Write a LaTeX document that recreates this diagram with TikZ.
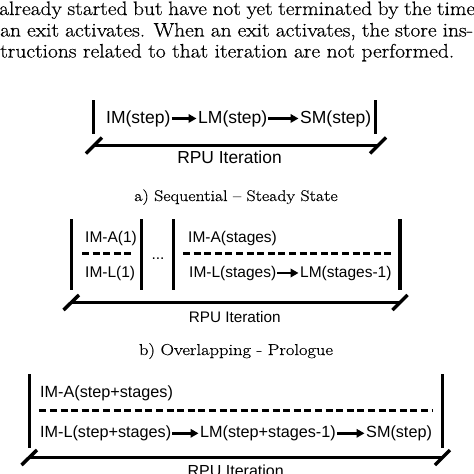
\documentclass[tikz,border=0pt]{standalone}
\usepackage{fontspec}
\newfontfamily\arial{Liberation Sans}
\newfontfamily\serif{Latin Modern Roman}[FakeBold=0.5,Ligatures=TeX]
\usetikzlibrary{arrows.meta}
\newcommand{\pline}[2]{\scalebox{1.10}[1]{\makebox[#1][s]{#2}}}
\begin{document}
\begin{tikzpicture}[x=1pt,y=-1pt,
  vbar/.style={line width=3.5pt},
  dimline/.style={line width=3.2pt},
  tickmark/.style={line width=3.5pt},
  sepline/.style={line width=2.6pt, dash pattern=on 7pt off 3.6pt},
  flow/.style={line width=2.8pt, -{Triangle[length=8pt,width=8.5pt]}, shorten <=1pt, shorten >=1.5pt},
  para/.style={inner sep=0pt, anchor=base west, font=\serif\fontsize{19.5}{21}\selectfont},
  capt/.style={inner sep=0pt, anchor=base, font=\serif\fontsize{15.5}{18}\selectfont},
  txa/.style={inner sep=0pt, anchor=base west, font=\arial\fontsize{17.5}{20}\selectfont},
  txb/.style={inner sep=0pt, anchor=base west, font=\arial\fontsize{15.5}{18}\selectfont},
  txc/.style={inner sep=0pt, anchor=base west, font=\arial\fontsize{16.2}{19}\selectfont},
  rpu/.style={inner sep=0pt, anchor=base}
]
\useasboundingbox (0,0) rectangle (474,474);
\fill[white] (0,0) rectangle (474,474);

% paragraph
\node[para] (p1) at (-1,15) {\pline{432.7pt}{already started but have not yet terminated by the time}};
\node[para] (p2) at (0,36.5) {\pline{430pt}{an exit activates. When an exit activates, the store ins-}};
\node[para] (p3) at (0,57.5) {\scalebox{1.10}[1]{tructions related to that iteration are not performed.}};

% ---------- a) ----------
\draw[vbar] (93.5,100) -- (93.5,134);
\draw[vbar] (375.7,100) -- (375.7,134);
\node[txa] (a1) at (106,123) {IM(step)};
\node[txa] (a2) at (198,123) {LM(step)};
\node[txa] (a3) at (300,123) {SM(step)};
\draw[flow] (a1.east) -- (a2.west);
\draw[flow] (a2.east) -- (a3.west);
\draw[dimline] (94,145.5) -- (378,145.5);
\draw[tickmark] (86,153.5) -- (102,137.5);
\draw[tickmark] (370,153.5) -- (386,137.5);
\node[rpu, font=\arial\fontsize{17.4}{20}\selectfont] (ra) at (229.5,163) {RPU Iteration};
\node[capt] (ca) at (236,201) {\scalebox{1.15}[1]{a) Sequential -- Steady State}};

% ---------- b) ----------
\draw[vbar] (71.7,219) -- (71.7,290);
\draw[vbar] (141.7,219) -- (141.7,290);
\draw[vbar] (173.5,219) -- (173.5,290);
\draw[vbar] (400,219) -- (400,290);
\node[txb] (b1) at (85,242) {IM-A(1)};
\node[txb] (b2) at (85,277) {IM-L(1)};
\draw[sepline] (82,253.3) -- (134,253.3);
\node[txb, anchor=base] (bdots) at (158,259) {...};
\node[txb] (b3) at (188,242) {IM-A(stages)};
\draw[sepline] (183,253.3) -- (392,253.3);
\node[txb] (b4) at (189,277) {IM-L(stages)};
\node[txb] (b5) at (300,277) {LM(stages-1)};
\draw[flow] (b4.east) -- (b5.west);
\draw[dimline] (71,302.5) -- (400,302.5);
\draw[tickmark] (63.5,310) -- (79,295);
\draw[tickmark] (392.5,310) -- (407.5,295);
\node[rpu, font=\arial\fontsize{15.3}{18}\selectfont] (rb) at (234.7,322) {RPU Iteration};
\node[capt, font=\serif\fontsize{15.8}{18}\selectfont] (cb) at (236,355) {\scalebox{1.17}[1]{b) Overlapping - Prologue}};

% ---------- c) ----------
\draw[vbar] (29.3,374) -- (29.3,448);
\draw[vbar] (442.5,374) -- (442.5,448);
\node[txc] (c1) at (40,397) {IM-A(step+stages)};
\draw[sepline] (39.3,410.5) -- (432.7,410.5);
\node[txc] (c2) at (40,437.5) {IM-L(step+stages)};
\node[txc] (c3) at (200,437.5) {LM(step+stages-1)};
\node[txc] (c4) at (366,437.5) {SM(step)};
\draw[flow] (c2.east) -- (c3.west);
\draw[flow] (c3.east) -- (c4.west);
\draw[dimline] (29,457.5) -- (442.5,457.5);
\draw[tickmark] (21.5,465) -- (37,450);
\draw[tickmark] (435,465) -- (450,450);
\node[rpu, font=\arial\fontsize{16}{19}\selectfont] (rc) at (235.7,476.5) {RPU Iteration};
\end{tikzpicture}
\end{document}
